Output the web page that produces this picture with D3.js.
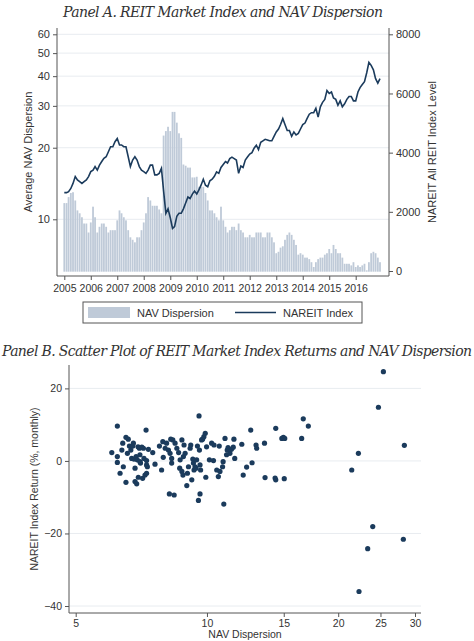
<!DOCTYPE html>
<html><head><meta charset="utf-8">
<script src="https://cdn.jsdelivr.net/npm/d3@7/dist/d3.min.js"></script>
<style>body{margin:0;background:#fff}svg{display:block}text{font-family:Arimo,"Liberation Sans",Arial,sans-serif;fill:#333}</style>
</head><body><svg id="c" width="474" height="641"></svg>
<script>
const years = [2005,2006,2007,2008,2009,2010,2011,2012,2013,2014,2015,2016];
const navDispersion = [
11.7,11.7,12.4,12.9,13.0,12.0,10.9,10.6,10.2,9.6,9.6,8.8,
9.7,11.3,10.2,8.8,9.3,9.6,9.6,9.3,8.8,9.0,9.0,9.0,
9.9,10.9,10.6,10.2,9.9,9.0,8.4,8.2,8.0,8.4,8.4,9.0,
9.7,10.6,12.4,12.0,11.4,11.4,11.4,11.0,10.6,22.5,23.5,24.5,
23.5,28.3,28.3,25.5,23.0,22.0,17.0,16.8,16.5,16.5,15.0,15.0,
15.1,13.7,13.7,13.7,12.9,12.0,10.9,10.9,10.6,10.2,9.9,11.3,
9.9,9.3,8.8,9.0,9.3,9.3,9.0,9.6,9.0,8.8,8.4,8.4,
8.6,8.4,8.4,8.8,8.8,8.8,8.4,8.4,8.8,8.8,8.4,8.0,
7.2,7.3,7.6,7.7,8.2,8.6,8.8,8.6,8.2,7.8,7.1,7.2,
7.1,6.9,6.9,6.8,6.6,6.3,6.6,6.8,6.9,6.9,7.1,7.2,
7.5,7.2,7.8,7.5,7.2,7.2,6.9,6.5,6.5,6.5,6.4,6.6,
6.3,6.4,6.3,6.4,6.5,6.1,6.6,7.2,7.3,7.2,6.9,6.6];
const nareitIndex = [
2648,2648,2680,2790,2960,3190,3080,3020,2960,3020,3080,3190,
3360,3410,3530,3410,3580,3700,3810,3860,4030,4200,4200,4370,
4480,4260,4260,4200,4200,3860,3530,3750,3860,3750,3530,3410,
3360,3300,3410,3580,3580,3250,3250,3300,3470,2700,1950,2100,
1800,1440,1500,1850,1950,1950,2100,2300,2500,2450,2600,2700,
2600,2750,2900,3100,2900,2850,3050,3100,3200,3350,3300,3500,
3600,3700,3650,3800,3850,3800,3750,3300,3550,3500,3750,3850,
3950,4000,4150,4250,4100,4350,4400,4450,4430,4400,4400,4550,
4700,4800,4950,5150,4950,4750,4750,4550,4700,4600,4650,4800,
4950,5000,5150,5300,5350,5350,5500,5200,5550,5700,5800,6100,
6000,6050,5850,5800,5600,5750,5550,5650,5800,5900,5900,5750,
5750,6050,6200,6300,6400,6700,7050,6950,6800,6500,6350,6500];
const leftTicks = [10,20,30,40,50,60];
const rightTicks = [0,2000,4000,6000,8000];
const scatterDispersion = [6.05,6.23,6.23,6.23,6.32,6.38,6.41,6.43,6.52,6.52,6.57,6.60,6.64,6.69,6.72,6.76,6.78,6.80,6.84,6.84,6.88,6.90,6.92,6.95,6.96,7.00,7.02,7.02,7.04,7.09,7.12,7.15,7.17,7.21,7.25,7.27,7.27,7.27,7.30,7.34,7.51,7.60,7.78,7.87,7.92,7.94,8.02,8.08,8.16,8.20,8.23,8.26,8.30,8.30,8.35,8.41,8.45,8.53,8.61,8.66,8.68,8.76,8.76,8.81,8.83,8.86,8.91,8.99,9.02,9.07,9.15,9.18,9.23,9.28,9.31,9.34,9.39,9.44,9.47,9.51,9.56,9.59,9.61,9.64,9.64,9.67,9.72,9.77,9.84,9.91,9.94,9.98,10.13,10.25,10.35,10.38,10.53,10.62,10.67,10.71,10.86,10.89,10.93,11.00,11.09,11.13,11.18,11.29,11.38,11.49,11.53,11.58,12.02,12.11,12.33,12.60,12.69,12.96,13.00,13.55,13.59,14.33,14.38,14.38,14.85,14.97,15.04,15.08,16.49,16.63,17.08,21.48,22.25,23.37,24.00,24.73,25.39,22.32,28.21,28.36];
const scatterReturn = [2.3,9.6,1.2,-0.4,-3.4,3.0,4.9,-1.6,6.5,-5.9,2.1,6.0,4.1,3.0,0.7,4.1,4.9,0.5,-2.0,-5.7,1.2,-6.3,0.3,3.9,-4.5,3.5,1.7,-0.2,-0.6,3.8,-4.8,3.5,0.7,-3.9,8.5,0.1,-1.1,-3.4,-1.6,3.2,2.3,-0.9,4.1,-2.5,5.3,1.0,3.5,4.9,3.0,-9.1,2.1,6.0,0.7,-0.6,5.8,-9.4,4.9,3.5,2.3,-2.0,0.3,5.8,-2.9,-3.9,1.2,4.4,2.1,-6.8,-3.4,-1.6,3.5,4.4,-5.2,0.5,-0.6,-2.5,-1.6,-2.0,0.3,4.1,-10.9,12.4,3.0,-1.1,-9.1,-2.5,5.8,6.0,6.7,7.6,-4.5,3.9,0.3,4.9,0.1,4.4,-2.5,-4.3,4.1,-2.9,-1.6,-0.2,-11.9,6.2,1.7,3.0,3.7,2.1,3.2,3.8,6.0,0.7,4.6,-3.9,-1.7,8.5,-0.5,4.4,3.5,4.9,-4.6,-4.7,-5.2,9.0,6.2,6.5,-4.9,6.2,6.2,11.6,9.6,-2.5,2.1,-24.2,-18.1,14.8,24.6,-36.0,-21.6,4.3];
const bTicksY = [-40,-20,0,20];
const bTicksX = [5,10,15,20,25,30];

const svg = d3.select("#c");
const barCol = "#bfcad8", lineCol = "#1b3b5c", axisCol = "#555", gridCol = "#e8ecf0";
const serif = '"DejaVu Serif","Liberation Serif",serif';
const sans = '"Liberation Sans",Arial,sans-serif';

// ---- Panel A
svg.append("text").attr("x",223).attr("y",17).attr("text-anchor","middle")
 .style("font-family",serif).style("font-style","italic").style("font-size","14px").attr("fill","#222")
 .attr("textLength",320).text("Panel A. REIT Market Index and NAV Dispersion");
const months = navDispersion.map((d,i)=>new Date(2005, i, 1));
const x = d3.scaleTime().domain([new Date(2005,0,1), new Date(2016,0,1)]).range([64.3,355.7]);
const yL = d3.scaleLog().domain([10,60]).range([219.3,34.3]);
const yR = d3.scaleLinear().domain([0,8000]).range([271,34.3]);
const baseY = yL(6.02);
const gA = svg.append("g");
gA.selectAll("line.g").data(leftTicks).join("line").attr("x1",57).attr("x2",389)
 .attr("y1",d=>yL(d)).attr("y2",d=>yL(d)).attr("stroke",gridCol).attr("stroke-width",1);
const bw = (x(new Date(2005,1,1))-x(new Date(2005,0,1)));
gA.selectAll("rect.b").data(navDispersion).join("rect")
 .attr("x",(d,i)=>x(months[i])-bw*0.4).attr("width",bw*0.8)
 .attr("y",d=>yL(d)).attr("height",d=>Math.max(0,baseY-yL(d))).attr("fill",barCol);
gA.append("path").datum(nareitIndex)
 .attr("d",d3.line().x((d,i)=>x(months[i])).y(d=>yR(d)))
 .attr("fill","none").attr("stroke",lineCol).attr("stroke-width",1.6);
const axL = svg.append("g").attr("transform","translate(57,0)")
 .call(d3.axisLeft(yL).tickValues(leftTicks).tickFormat(d3.format("d")).tickSize(4));
axL.select(".domain").attr("d","M0,28V276");
const axR = svg.append("g").attr("transform","translate(389,0)")
 .call(d3.axisRight(yR).tickValues(rightTicks).tickFormat(d3.format("d")).tickSize(4));
axR.select(".domain").attr("d","M0,28V276");
const axB = svg.append("g").attr("transform","translate(0,276)")
 .call(d3.axisBottom(x).ticks(d3.timeYear.every(1)).tickFormat(d3.timeFormat("%Y")).tickSize(4));
axB.select(".domain").attr("d","M57,0H389");
[axL,axR,axB].forEach(a=>{a.attr("font-family",sans);a.selectAll("line,path").attr("stroke",axisCol);
 a.selectAll("text").style("font-family",sans).style("font-size","11px").attr("fill","#333");});
axB.selectAll("text").style("font-size","10.5px").attr("dy","0.9em");
svg.append("text").attr("transform","translate(32,152) rotate(-90)").attr("text-anchor","middle")
 .style("font-family",sans).style("font-size","11px").text("Average NAV Dispersion");
svg.append("text").attr("transform","translate(436,152) rotate(-90)").attr("text-anchor","middle")
 .style("font-family",sans).style("font-size","11px").text("NAREIT All REIT Index Level");
svg.append("rect").attr("x",83).attr("y",302).attr("width",279).attr("height",21).attr("fill","#fff").attr("stroke",axisCol);
svg.append("rect").attr("x",88).attr("y",307).attr("width",42).attr("height",11).attr("fill",barCol);
svg.append("text").attr("x",137).attr("y",317).style("font-family",sans).style("font-size","11px").text("NAV Dispersion");
svg.append("line").attr("x1",235).attr("x2",276).attr("y1",312.5).attr("y2",312.5).attr("stroke",lineCol).attr("stroke-width",1.6);
svg.append("text").attr("x",283).attr("y",317).style("font-family",sans).style("font-size","11px").text("NAREIT Index");

// ---- Panel B
svg.append("text").attr("x",237).attr("y",356).attr("text-anchor","middle")
 .style("font-family",serif).style("font-style","italic").style("font-size","14px").attr("fill","#222")
 .attr("textLength",470).text("Panel B. Scatter Plot of REIT Market Index Returns and NAV Dispersion");
const xb = d3.scaleLog().domain([5,30]).range([75.7,415]);
const yb = d3.scaleLinear().domain([-40,20]).range([606,388.4]);
const gB = svg.append("g");
gB.selectAll("line").data(bTicksY).join("line").attr("x1",69).attr("x2",421)
 .attr("y1",d=>yb(d)).attr("y2",d=>yb(d)).attr("stroke",gridCol);
gB.selectAll("circle").data(scatterDispersion).join("circle")
 .attr("cx",d=>xb(d)).attr("cy",(d,i)=>yb(scatterReturn[i])).attr("r",2.6).attr("fill","#1b3b5c");
const bL = svg.append("g").attr("transform","translate(69,0)")
 .call(d3.axisLeft(yb).tickValues(bTicksY).tickSize(4));
bL.select(".domain").attr("d","M0,365V613");
const bB = svg.append("g").attr("transform","translate(0,613)")
 .call(d3.axisBottom(xb).tickValues(bTicksX).tickFormat(d3.format("d")).tickSize(4));
bB.select(".domain").attr("d","M69,0H421");
[bL,bB].forEach(a=>{a.attr("font-family",sans);a.selectAll("line,path").attr("stroke",axisCol);
 a.selectAll("text").style("font-family",sans).style("font-size","10.5px").attr("fill","#444");});
svg.append("text").attr("transform","translate(38,489) rotate(-90)").attr("text-anchor","middle")
 .style("font-family",sans).style("font-size","10.5px").attr("fill","#444").text("NAREIT Index Return (%, monthly)");
svg.append("text").attr("x",245).attr("y",638).attr("text-anchor","middle")
 .style("font-family",sans).style("font-size","10.5px").attr("fill","#444").text("NAV Dispersion");
</script></body></html>
